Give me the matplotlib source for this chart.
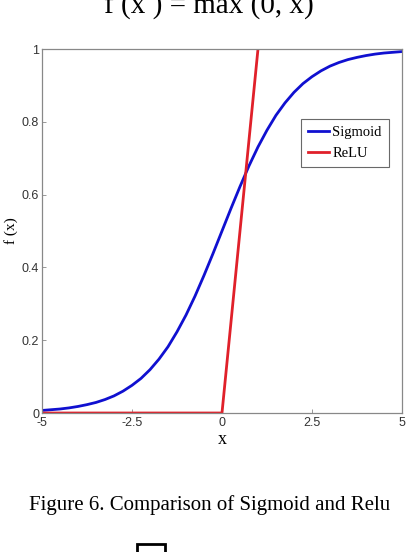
import matplotlib
matplotlib.use("Agg")
from matplotlib import pyplot as plt
from matplotlib.patches import Rectangle

# values
x_sig = [-5, -4.75, -4.5, -4.25, -4, -3.75, -3.5, -3.25, -3, -2.75, -2.5, -2.25, -2, -1.75, -1.5,
         -1.25, -1, -0.75, -0.5, -0.25, 0, 0.25, 0.5, 0.75, 1, 1.25, 1.5, 1.75, 2, 2.25, 2.5,
         2.75, 3, 3.25, 3.5, 3.75, 4, 4.25, 4.5, 4.75, 5]
y_sig = [0.007, 0.009, 0.011, 0.014, 0.018, 0.023, 0.029, 0.037, 0.047, 0.060, 0.076, 0.095,
         0.119, 0.148, 0.182, 0.223, 0.269, 0.321, 0.378, 0.438, 0.500, 0.562, 0.622, 0.679,
         0.731, 0.777, 0.818, 0.852, 0.881, 0.905, 0.924, 0.940, 0.953, 0.963, 0.971, 0.977,
         0.982, 0.986, 0.989, 0.991, 0.993]
x_relu = [-5, 0, 1]
y_relu = [0, 0, 1]
x_ticks = [-5, -2.5, 0, 2.5, 5]
y_ticks = [0, 0.2, 0.4, 0.6, 0.8, 1]
x_tick_labels = ["-5", "-2.5", "0", "2.5", "5"]
y_tick_labels = ["0", "0.2", "0.4", "0.6", "0.8", "1"]

serif = ["Liberation Serif", "DejaVu Serif"]
sans = ["Liberation Sans", "DejaVu Sans"]

fig = plt.figure(figsize=(4.14, 5.52), dpi=100)
ax = fig.add_axes([0.1014, 0.2518, 0.8696, 0.6594])

ax.plot(x_sig, y_sig, color="#1010d0", linewidth=2.0, label="Sigmoid")
ax.plot(x_relu, y_relu, color="#e0202a", linewidth=2.0, label="ReLU")

ax.set_xlim(-5, 5)
ax.set_ylim(0, 1)
ax.set_xticks(x_ticks)
ax.set_xticklabels(x_tick_labels, family=sans, fontsize=9, color="#333333")
ax.set_yticks(y_ticks)
ax.set_yticklabels(y_tick_labels, family=sans, fontsize=9, color="#333333")
ax.tick_params(direction="in", length=3, width=0.6, color="#888888", pad=2)
ax.tick_params(axis="x", pad=3)
for s in ax.spines.values():
    s.set_color("#888888")
    s.set_linewidth(0.9)

ax.set_xlabel("x", family=serif, fontsize=13, labelpad=1)
ax.set_ylabel("f (x)", family=serif, fontsize=11, labelpad=3)

leg = ax.legend(loc="upper right", bbox_to_anchor=(0.964, 0.808), prop={"family": serif, "size": 10.5},
                fancybox=False, edgecolor="#444444", handlelength=1.45, borderpad=0.5,
                labelspacing=0.5, handletextpad=0.2, borderaxespad=0)
leg.get_frame().set_linewidth(0.8)

# cut-off formula at the top and caption below
fig.text(0.505, 0.975, "f (x ) = max (0, x)", family=serif, fontsize=21, ha="center", va="baseline")
fig.text(0.507, 0.085, "Figure 6. Comparison of Sigmoid and Relu", family=serif, fontsize=15,
         ha="center", va="center")
fig.patches.append(Rectangle((0.330, -0.01), 0.068, 0.025, transform=fig.transFigure,
                             fill=False, edgecolor="black", linewidth=2.0))

fig.savefig("out.png", dpi=100)
